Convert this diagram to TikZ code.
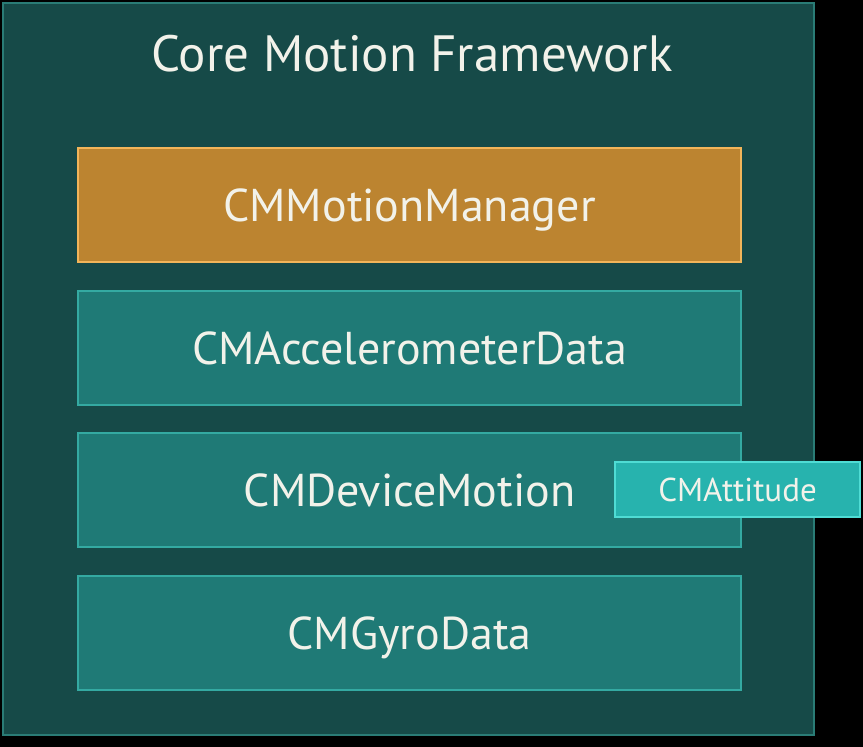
\documentclass[tikz,border=0pt]{standalone}
\usepackage{fontspec}
\setmainfont{PT Sans}
\usepackage{xcolor}
\usetikzlibrary{positioning,calc}

\definecolor{bgdark}{HTML}{000000}
\definecolor{frame}{HTML}{164A48}
\definecolor{frameline}{HTML}{2A7C76}
\definecolor{mgrfill}{HTML}{BC8430}
\definecolor{mgrline}{HTML}{F2B55A}
\definecolor{datafill}{HTML}{1F7A76}
\definecolor{dataline}{HTML}{34AAA2}
\definecolor{attfill}{HTML}{27B3AE}
\definecolor{attline}{HTML}{4FDCD4}
\definecolor{labeltext}{HTML}{F2F2EA}

\tikzset{
    layer/.style={draw=dataline, fill=datafill, line width=2pt, minimum width=663pt, minimum height=114pt, text=labeltext, font=\fontsize{46}{50}\selectfont, text height=32pt, text depth=0pt},
    manager/.style={layer, draw=mgrline, fill=mgrfill},
    attitude/.style={draw=attline, fill=attfill, line width=2pt, minimum width=245pt, minimum height=55pt, text=labeltext, font=\fontsize{33}{36}\selectfont, text height=23pt, text depth=0pt}
}

\begin{document}
\begin{tikzpicture}[x=1pt,y=-1pt]
    % Background
    \fill[bgdark] (0,0) rectangle (863,747);
    \useasboundingbox (0,0) rectangle (863,747);

    % Framework box
    \draw[frameline, fill=frame, line width=2pt] (3,3) rectangle (814,735);
    \node[text=labeltext, font=\fontsize{51}{55}\selectfont, text height=36pt, text depth=0pt] (title) at (412,53) {Core Motion Framework};

    % Layers
    \node[manager] (manager) at (409.5,205) {CMMotionManager};
    \node[layer] (accel) at (409.5,348) {CMAccelerometerData};
    \node[layer] (device) at (409.5,490) {CMDeviceMotion};
    \node[layer] (gyro) at (409.5,633) {CMGyroData};

    % Attitude
    \node[attitude] (attitude) at (737.5,489.5) {CMAttitude};
\end{tikzpicture}
\end{document}
